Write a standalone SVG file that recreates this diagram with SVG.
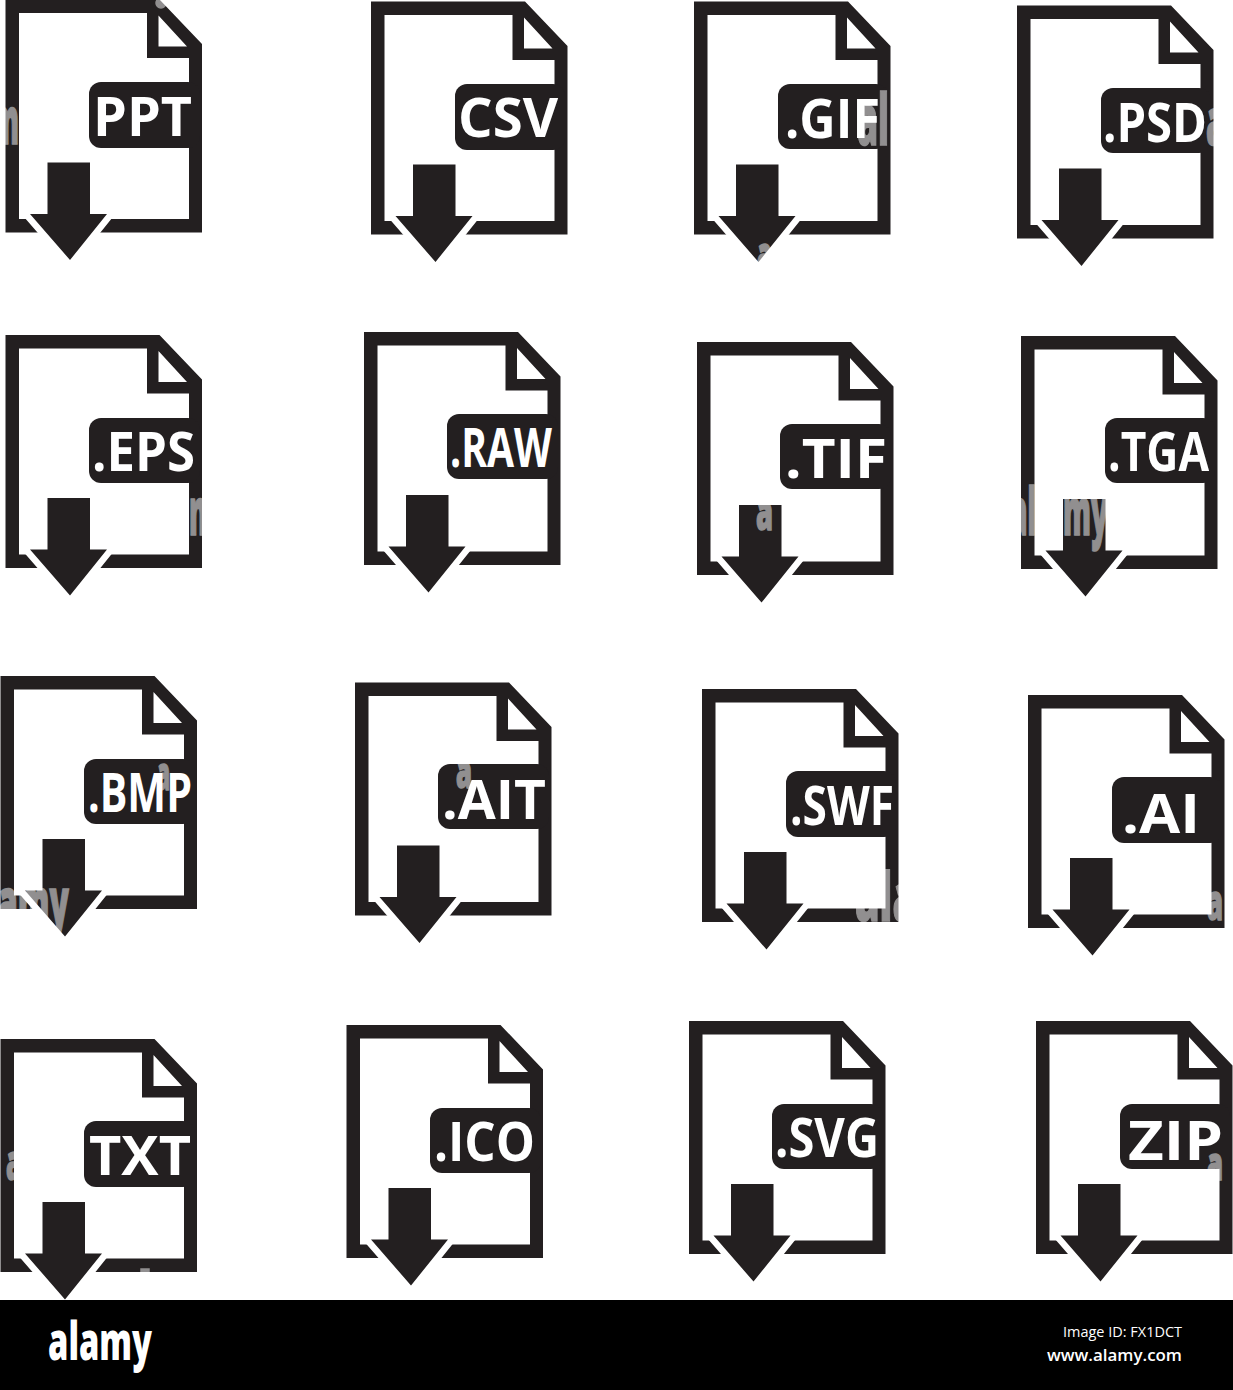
<svg xmlns="http://www.w3.org/2000/svg" xmlns:xlink="http://www.w3.org/1999/xlink" width="1233" height="1390" viewBox="0 0 1233 1390">
<style>
.k{fill:#231f20}
.h{fill:#fff;stroke:#fff;stroke-width:13;stroke-linejoin:bevel}
.t{fill:#fff;font-family:"Open Sans","Liberation Sans",sans-serif;font-weight:700;font-size:54px}
.w{fill:#fff;stroke:#fff;stroke-width:1.500;opacity:.5;font-family:"Open Sans","Liberation Sans",sans-serif;font-weight:800}
.f{fill:#fff;font-family:"Open Sans","Liberation Sans",sans-serif}
</style>
<defs>
<g id="doc">
<path class="k" fill-rule="evenodd" d="M0 0H154L196.500 44.500V233H0ZM13.500 13.500V219.500H183.500V58.500H141.500V13.500ZM153 16V47H181.500Z"/>
<path class="h" d="M24.500 214.500H101.500L64.500 260.500Z"/>
<path class="k" d="M42 163H84.500V214.500H101.500L64.500 260.500L24.500 214.500H42Z"/>
</g>
</defs>
<rect width="1233" height="1390" fill="#fff"/>
<g id="ppt"><use xlink:href="#doc" href="#doc" x="5.500" y="-0.500"/><rect class="k" x="89" y="82" width="111" height="66" rx="12"/><text class="t" x="93" y="136" textLength="99" lengthAdjust="spacingAndGlyphs">PPT</text></g>
<g id="csv"><use xlink:href="#doc" href="#doc" x="371" y="1.500"/><rect class="k" x="455" y="84" width="110" height="66" rx="12"/><text class="t" x="458" y="137" textLength="100" lengthAdjust="spacingAndGlyphs">CSV</text></g>
<g id="gif"><use xlink:href="#doc" href="#doc" x="694" y="1.500"/><rect class="k" x="778" y="84" width="110" height="65" rx="12"/><text class="t" x="785" y="138" textLength="95" lengthAdjust="spacingAndGlyphs">.GIF</text></g>
<g id="psd"><use xlink:href="#doc" href="#doc" x="1017" y="5.500"/><rect class="k" x="1101" y="88" width="110" height="65" rx="12"/><text class="t" x="1103" y="142" textLength="104" lengthAdjust="spacingAndGlyphs">.PSD</text></g>
<g id="eps"><use xlink:href="#doc" href="#doc" x="5.500" y="335"/><rect class="k" x="89" y="418" width="111" height="65" rx="12"/><text class="t" x="92" y="471" textLength="103" lengthAdjust="spacingAndGlyphs">.EPS</text></g>
<g id="raw"><use xlink:href="#doc" href="#doc" x="364" y="332"/><rect class="k" x="447" y="414" width="111" height="65" rx="12"/><text class="t" x="450" y="467" textLength="102" lengthAdjust="spacingAndGlyphs">.RAW</text></g>
<g id="tif"><use xlink:href="#doc" href="#doc" x="697" y="342"/><rect class="k" x="780" y="424" width="111" height="65" rx="12"/><text class="t" x="785" y="478" textLength="102" lengthAdjust="spacingAndGlyphs">.TIF</text></g>
<g id="tga"><use xlink:href="#doc" href="#doc" x="1021" y="336"/><rect class="k" x="1105" y="418" width="110" height="65" rx="12"/><text class="t" x="1108" y="471" textLength="101" lengthAdjust="spacingAndGlyphs">.TGA</text></g>
<g id="bmp"><use xlink:href="#doc" href="#doc" x="0.500" y="676"/><rect class="k" x="84" y="759" width="111" height="65" rx="12"/><text class="t" x="88" y="812" textLength="104" lengthAdjust="spacingAndGlyphs">.BMP</text></g>
<g id="ait"><use xlink:href="#doc" href="#doc" x="355" y="682.500"/><rect class="k" x="438" y="764" width="111" height="65" rx="12"/><text class="t" x="442" y="819" textLength="104" lengthAdjust="spacingAndGlyphs">.AIT</text></g>
<g id="swf"><use xlink:href="#doc" href="#doc" x="702" y="689"/><rect class="k" x="786" y="771" width="110" height="66" rx="12"/><text class="t" x="790" y="825" textLength="104" lengthAdjust="spacingAndGlyphs">.SWF</text></g>
<g id="ai"><use xlink:href="#doc" href="#doc" x="1028" y="695"/><rect class="k" x="1112" y="777" width="110" height="66" rx="12"/><text class="t" x="1122" y="833" textLength="78" lengthAdjust="spacingAndGlyphs">.AI</text></g>
<g id="txt"><use xlink:href="#doc" href="#doc" x="0.500" y="1039"/><rect class="k" x="84" y="1121" width="111" height="66" rx="12"/><text class="t" x="89" y="1175" textLength="102" lengthAdjust="spacingAndGlyphs">TXT</text></g>
<g id="ico"><use xlink:href="#doc" href="#doc" x="346.500" y="1025"/><rect class="k" x="430" y="1108" width="111" height="65" rx="12"/><text class="t" x="434" y="1161" textLength="101" lengthAdjust="spacingAndGlyphs">.ICO</text></g>
<g id="svg"><use xlink:href="#doc" href="#doc" x="689" y="1021"/><rect class="k" x="772" y="1104" width="111" height="65" rx="12"/><text class="t" x="775" y="1157" textLength="104" lengthAdjust="spacingAndGlyphs">.SVG</text></g>
<g id="zip"><use xlink:href="#doc" href="#doc" x="1036" y="1021"/><rect class="k" x="1120" y="1104" width="110" height="65" rx="12"/><text class="t" x="1128" y="1160" textLength="95" lengthAdjust="spacingAndGlyphs">ZIP</text></g>
<g id="watermark">
<text class="w" x="-8" y="144" font-size="66" textLength="27" lengthAdjust="spacingAndGlyphs">m</text>
<circle class="w" cx="161" cy="3" r="5"/>
<text class="w" x="857" y="145" font-size="70" textLength="32" lengthAdjust="spacingAndGlyphs">al</text>
<text class="w" x="1206" y="145" font-size="66" textLength="20" lengthAdjust="spacingAndGlyphs">a</text>
<text class="w" x="757" y="272" font-size="50" textLength="15" lengthAdjust="spacingAndGlyphs">a</text>
<text class="w" x="189" y="535" font-size="66" textLength="27" lengthAdjust="spacingAndGlyphs">m</text>
<text class="w" x="756" y="530" font-size="50" textLength="17" lengthAdjust="spacingAndGlyphs">a</text>
<text class="w" x="1011" y="535" font-size="66" textLength="25" lengthAdjust="spacingAndGlyphs">al</text>
<text class="w" x="1063" y="535" font-size="66" textLength="45" lengthAdjust="spacingAndGlyphs">my</text>
<text class="w" x="-2" y="925" font-size="66" textLength="71" lengthAdjust="spacingAndGlyphs">amy</text>
<text class="w" x="157" y="790" font-size="46" textLength="13" lengthAdjust="spacingAndGlyphs">a</text>
<text class="w" x="855" y="921" font-size="68" textLength="62" lengthAdjust="spacingAndGlyphs">ala</text>
<text class="w" x="1207" y="920" font-size="50" textLength="16" lengthAdjust="spacingAndGlyphs">a</text>
<text class="w" x="456" y="788" font-size="46" textLength="16" lengthAdjust="spacingAndGlyphs">a</text>
<text class="w" x="6" y="1180" font-size="50" textLength="16" lengthAdjust="spacingAndGlyphs">a</text>
<text class="w" x="1207" y="1180" font-size="46" textLength="16" lengthAdjust="spacingAndGlyphs">a</text>
<rect class="w" x="141" y="1269" width="8" height="3"/>
</g>
<g id="footer">
<rect x="0" y="1300" width="1233" height="90" fill="#000"/>
<text class="f" x="48" y="1360" font-size="53" font-weight="800" textLength="104" lengthAdjust="spacingAndGlyphs">alamy</text>
<text class="f" x="1063" y="1337" font-size="14" textLength="119" lengthAdjust="spacingAndGlyphs">Image ID: FX1DCT</text>
<text class="f" x="1047" y="1361" font-size="16" font-weight="600" textLength="135" lengthAdjust="spacingAndGlyphs">www.alamy.com</text>
</g>
</svg>
